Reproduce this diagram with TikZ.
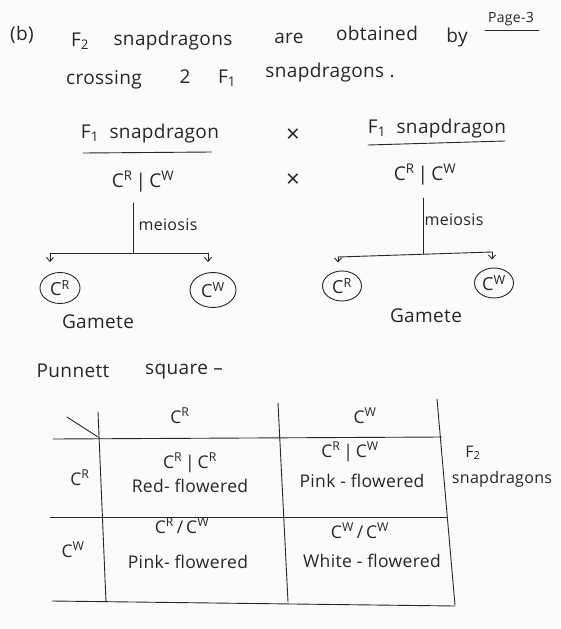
\documentclass[tikz,border=0pt]{standalone}
\usepackage{fontspec}
\setmainfont{Open Sans}[LetterSpace=2]
\usetikzlibrary{arrows.meta,shapes.geometric}
\definecolor{ink}{RGB}{38,38,38}
\definecolor{paper}{RGB}{250,250,248}
\begin{document}
\begin{tikzpicture}[x=1pt,y=-1pt,
  txt/.style={text=ink, inner sep=0pt, anchor=base, font=\fontsize{19}{21}\selectfont},
  small/.style={txt, font=\fontsize{17.5}{20}\selectfont},
  mid/.style={txt, font=\fontsize{16}{18}\selectfont},
  tiny/.style={txt, font=\fontsize{14}{16}\selectfont},
  cross/.style={txt, font=\fontsize{24}{26}\selectfont},
  ln/.style={draw=ink, line width=0.9pt, line cap=round, line join=round},
  arr/.style={ln, -{Straight Barb[length=4pt,width=7pt]}},
  gam/.style={ellipse, draw=ink, line width=0.9pt, text=ink, inner sep=0pt,
    font=\fontsize{18}{20}\selectfont}]
\useasboundingbox (0,0) rectangle (560,629);
\fill[paper] (0,0) rectangle (560,629);

% heading lines
\node[txt] (b) at (22,40) {(b)};
\node[tiny] (page) at (511,23) {Page-3};
\draw[ln] ([xshift=-3pt,yshift=-4pt]page.south west) coordinate (pgL) -- ([xshift=5pt,yshift=-4pt]page.south east) coordinate (pgR);
\node[txt] (f2) at (80,46) {F\textsubscript{2}};
\node[txt] (s1) at (173,45) {snapdragons};
\node[txt] (are) at (289,43) {are};
\node[txt] (obt) at (377,40) {obtained};
\node[txt] (by) at (457,42) {by};
\node[txt] (cr) at (104,84) {crossing};
\node[txt] (two) at (185,83) {2};
\node[txt] (f1) at (227,83) {F\textsubscript{1}};
\node[txt] (s2) at (330,77) {snapdragons .};

% parents
\node[txt] (lp) at (150,138) {F\textsubscript{1}\ \ snapdragon};
\draw[ln] (83,153) coordinate (lu1) -- (212,152) coordinate (lu2);
\node[cross] (x1) at (293,142) {×};
\node[txt] (rp) at (437,133) {F\textsubscript{1}\ \ snapdragon};
\draw[ln] (368,145) coordinate (ru1) -- (505,141) coordinate (ru2);
\node[txt] (lg) at (143,187) {C\textsuperscript{R}\,|\,C\textsuperscript{W}};
\node[cross] (x2) at (293,187) {×};
\node[txt] (rg) at (425,180) {C\textsuperscript{R}\,|\,C\textsuperscript{W}};

% left meiosis
\coordinate (ltop) at (133,203);
\coordinate (lmid) at (133,253);
\coordinate (lL) at (50,253);
\coordinate (lR) at (208,253);
\node[mid] (lm) at (168,230) {meiosis};
\node[gam, minimum width=40pt, minimum height=31pt] (lcr) at (60,288) {C\textsuperscript{R}};
\node[gam, minimum width=46pt, minimum height=35pt] (lcw) at (213,290) {C\textsuperscript{W}};
\draw[ln] (ltop) -- (lmid);
\draw[ln] (lL) -- (lR);
\draw[arr] (lL) -- ([yshift=10pt]lL |- lcr.north) coordinate (la1);
\draw[arr] (lR) -- ([yshift=10pt]lR |- lcw.north) coordinate (la2);
\node[txt] (lgam) at (98,328) {Gamete};

% right meiosis
\coordinate (rtop) at (423,198);
\coordinate (rmid) at (423,254);
\coordinate (rL) at (338,257);
\coordinate (rR) at (492,252);
\node[mid] (rm) at (454,225) {meiosis};
\node[gam, minimum width=39pt, minimum height=30pt] (rcr) at (342,286) {C\textsuperscript{R}};
\node[gam, minimum width=39pt, minimum height=30pt] (rcw) at (494,283) {C\textsuperscript{W}};
\draw[ln] (rtop) -- (rmid);
\draw[ln] (rL) -- (rR);
\draw[arr] (rL) -- ([yshift=8pt]rL |- rcr.north) coordinate (ra1);
\draw[arr] (rR) -- ([yshift=8pt]rR |- rcw.north) coordinate (ra2);
\node[txt] (rgam) at (426,322) {Gamete};

% Punnett square
\node[txt] (pun) at (73,377) {Punnett};
\node[txt] (sq) at (184,374) {square --};

\draw[ln] (98,412) -- (106,602);
\draw[ln] (278,403) -- (288,602);
\draw[ln] (437,399) -- (455,605);
\draw[ln] (53,439) -- (442,437);
\draw[ln] (50,517) -- (447,517);
\draw[ln] (52,601) -- (455,606);
\draw[ln] (67,417) -- (98,437);

\node[small] (hcr) at (180,423) {C\textsuperscript{R}};
\node[small] (hcw) at (365,423) {C\textsuperscript{W}};
\node[small] (rcrl) at (80,485) {C\textsuperscript{R}};
\node[small] (rcwl) at (73,557) {C\textsuperscript{W}};
\node[small] (g11) at (190,468) {C\textsuperscript{R}\,|\,C\textsuperscript{R}};
\node[small] (p11) at (190,492) {Red- flowered};
\node[small] (g12) at (350,457) {C\textsuperscript{R}\,|\,C\textsuperscript{W}};
\node[small] (p12) at (362,487) {Pink - flowered};
\node[small] (g21) at (182,533) {C\textsuperscript{R}\,/\,C\textsuperscript{W}};
\node[small] (p21) at (188,568) {Pink- flowered};
\node[small] (g22) at (360,538) {C\textsuperscript{W}\,/\,C\textsuperscript{W}};
\node[small] (p22) at (372,567) {White - flowered};
\node[mid] (f2b) at (473,457) {F\textsubscript{2}};
\node[mid] (s3) at (502,483) {snapdragons};
\end{tikzpicture}
\end{document}
